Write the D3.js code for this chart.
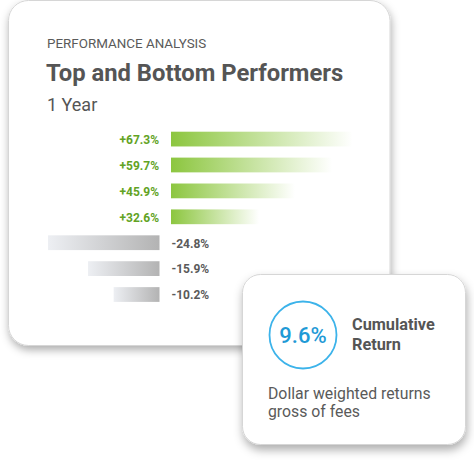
<!DOCTYPE html>
<html><head><meta charset="utf-8">
<script src="https://cdn.jsdelivr.net/npm/d3@7"></script>
<style>html,body{margin:0;padding:0;background:#fff;}svg{display:block;font-family:Roboto,"Noto Sans",sans-serif;}</style>
</head><body>
<script>
const positiveValues = [67.3, 59.7, 45.9, 32.6];
const negativeValues = [-24.8, -15.9, -10.2];
const positiveLabels = ["+67.3%", "+59.7%", "+45.9%", "+32.6%"];
const negativeLabels = ["-24.8%", "-15.9%", "-10.2%"];
const cumulativeReturn = "9.6%";
const texts = {kicker:"PERFORMANCE ANALYSIS", title:"Top and Bottom Performers", period:"1 Year",
  cardTitle:["Cumulative","Return"], cardNote:["Dollar weighted returns","gross of fees"]};

const W = 474, H = 460;
const svg = d3.select("body").append("svg").attr("width", W).attr("height", H);
const defs = svg.append("defs");
const sh = defs.append("filter").attr("id","sh").attr("x","-20%").attr("y","-20%").attr("width","140%").attr("height","150%");
sh.append("feDropShadow").attr("dx",1).attr("dy",4).attr("stdDeviation",4).attr("flood-color","#000").attr("flood-opacity",0.32);
const sh2 = defs.append("filter").attr("id","sh2").attr("x","-20%").attr("y","-20%").attr("width","140%").attr("height","150%");
sh2.append("feDropShadow").attr("dx",1).attr("dy",5).attr("stdDeviation",5).attr("flood-color","#000").attr("flood-opacity",0.32);
const gPos = defs.append("linearGradient").attr("id","gpos");
gPos.append("stop").attr("offset","0%").attr("stop-color","#8cc63f");
gPos.append("stop").attr("offset","100%").attr("stop-color","#8cc63f").attr("stop-opacity",0);
const gNeg = defs.append("linearGradient").attr("id","gneg");
gNeg.append("stop").attr("offset","0%").attr("stop-color","#edeff3");
gNeg.append("stop").attr("offset","100%").attr("stop-color","#b3b3b3");

// main card
svg.append("rect").attr("x",8.5).attr("y",0.5).attr("width",381.5).attr("height",345).attr("rx",20)
  .attr("fill","#fff").attr("stroke","#d6d6d6").attr("filter","url(#sh)");

svg.append("text").attr("x",47).attr("y",48).attr("font-size",13.4).attr("fill","#5a5a5a").text(texts.kicker);
svg.append("text").attr("x",46).attr("y",81).attr("font-size",23.8).attr("font-weight","bold").attr("fill","#555").text(texts.title);
svg.append("text").attr("x",47).attr("y",111).attr("font-size",18).attr("fill","#555").text(texts.period);

const rows = d3.range(positiveValues.length + negativeValues.length);
const y = d3.scaleBand().domain(rows).range([131.7, 301.9]).paddingInner(0.43).paddingOuter(0);
const xPos = d3.scaleLinear().domain([0, 100]).range([171, 441]);
const xNeg = d3.scaleLinear().domain([-100, 0]).range([-290, 159.5]);

const pg = svg.append("g");
pg.selectAll("rect").data(positiveValues).join("rect")
  .attr("x", xPos(0)).attr("y",(d,i)=>y(i)).attr("width",d=>xPos(d)-xPos(0)).attr("height",y.bandwidth())
  .attr("fill","url(#gpos)");
pg.selectAll("text").data(positiveLabels).join("text")
  .attr("x",159).attr("y",(d,i)=>y(i)+y.bandwidth()/2+4.8).attr("text-anchor","end")
  .attr("font-size",12).attr("font-weight","bold").attr("fill","#62a324").text(d=>d);

const ng = svg.append("g");
const off = positiveValues.length;
ng.selectAll("rect").data(negativeValues).join("rect")
  .attr("x",d=>xNeg(d)).attr("y",(d,i)=>y(i+off)).attr("width",d=>xNeg(0)-xNeg(d)).attr("height",y.bandwidth())
  .attr("fill","url(#gneg)");
ng.selectAll("text").data(negativeLabels).join("text")
  .attr("x",171.5).attr("y",(d,i)=>y(i+off)+y.bandwidth()/2+4.8)
  .attr("font-size",12).attr("font-weight","bold").attr("fill","#5a5a5a").text(d=>d);

// second card
svg.append("rect").attr("x",242.5).attr("y",274.5).attr("width",223).attr("height",170).attr("rx",18)
  .attr("fill","#fff").attr("stroke","#d6d6d6").attr("filter","url(#sh2)");
svg.append("circle").attr("cx",303).attr("cy",335).attr("r",33.5).attr("fill","#fff")
  .attr("stroke","#3cb3ea").attr("stroke-width",1.8);
svg.append("text").attr("x",303).attr("y",342.5).attr("text-anchor","middle").attr("font-size",22)
  .attr("font-weight",500).attr("fill","#1f9ad6").text(cumulativeReturn);
svg.append("g").selectAll("text").data(texts.cardTitle).join("text")
  .attr("x",352).attr("y",(d,i)=>330+i*20).attr("font-size",16.3).attr("font-weight","bold").attr("fill","#555").text(d=>d);
svg.append("g").selectAll("text").data(texts.cardNote).join("text")
  .attr("x",268).attr("y",(d,i)=>399+i*17.5).attr("font-size",15.8).attr("fill","#5a5a5a").text(d=>d);
</script>
</body></html>
